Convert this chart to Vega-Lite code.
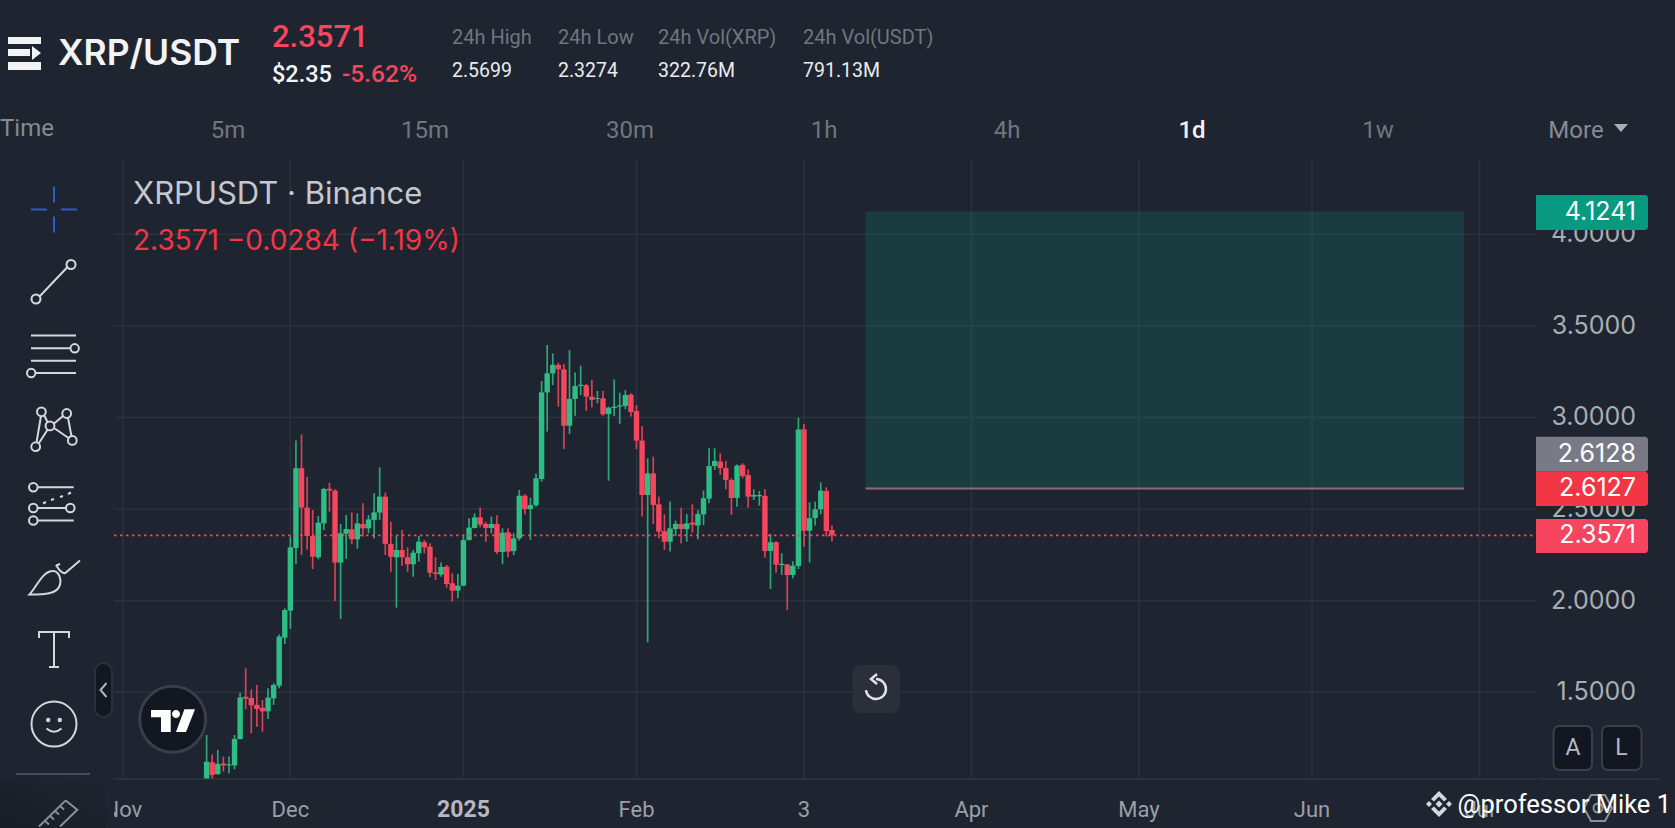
{"$schema":"https://vega.github.io/schema/vega-lite/v6.json","width":1675,"height":828,"padding":0,"autosize":{"type":"fit","contains":"padding"},"background":"#1f2530","view":{"stroke":null},"config":{"axis":{"disable":true}},
"datasets":{
"candles":[
{"date":"2024-11-16","open":1.03,"high":1.267,"low":1.03,"close":1.121},{"date":"2024-11-17","open":1.118,"high":1.161,"low":1.03,"close":1.049},{"date":"2024-11-18","open":1.054,"high":1.185,"low":1.049,"close":1.109},{"date":"2024-11-19","open":1.111,"high":1.149,"low":1.067,"close":1.101},{"date":"2024-11-20","open":1.101,"high":1.149,"low":1.058,"close":1.107},{"date":"2024-11-21","open":1.101,"high":1.267,"low":1.08,"close":1.245},{"date":"2024-11-22","open":1.245,"high":1.498,"low":1.243,"close":1.472},{"date":"2024-11-23","open":1.476,"high":1.631,"low":1.407,"close":1.465},{"date":"2024-11-24","open":1.469,"high":1.516,"low":1.276,"close":1.429},{"date":"2024-11-25","open":1.431,"high":1.54,"low":1.312,"close":1.409},{"date":"2024-11-26","open":1.416,"high":1.458,"low":1.285,"close":1.396},{"date":"2024-11-27","open":1.396,"high":1.522,"low":1.354,"close":1.471},{"date":"2024-11-28","open":1.467,"high":1.549,"low":1.431,"close":1.54},{"date":"2024-11-29","open":1.536,"high":1.816,"low":1.522,"close":1.804},{"date":"2024-11-30","open":1.798,"high":1.958,"low":1.764,"close":1.949},
{"date":"2024-12-01","open":1.946,"high":2.35,"low":1.846,"close":2.291},{"date":"2024-12-02","open":2.288,"high":2.874,"low":2.199,"close":2.723},{"date":"2024-12-03","open":2.723,"high":2.908,"low":2.25,"close":2.508},{"date":"2024-12-04","open":2.508,"high":2.677,"low":2.28,"close":2.353},{"date":"2024-12-05","open":2.353,"high":2.495,"low":2.173,"close":2.24},{"date":"2024-12-06","open":2.237,"high":2.462,"low":2.226,"close":2.426},{"date":"2024-12-07","open":2.422,"high":2.617,"low":2.386,"close":2.61},{"date":"2024-12-08","open":2.611,"high":2.644,"low":2.486,"close":2.601},{"date":"2024-12-09","open":2.601,"high":2.608,"low":1.998,"close":2.208},{"date":"2024-12-10","open":2.208,"high":2.419,"low":1.9,"close":2.368},{"date":"2024-12-11","open":2.366,"high":2.468,"low":2.228,"close":2.391},{"date":"2024-12-12","open":2.39,"high":2.482,"low":2.308,"close":2.335},{"date":"2024-12-13","open":2.335,"high":2.477,"low":2.284,"close":2.422},{"date":"2024-12-14","open":2.419,"high":2.532,"low":2.35,"close":2.395},{"date":"2024-12-15","open":2.395,"high":2.468,"low":2.368,"close":2.444},{"date":"2024-12-16","open":2.441,"high":2.586,"low":2.34,"close":2.482},{"date":"2024-12-17","open":2.481,"high":2.728,"low":2.441,"close":2.568},{"date":"2024-12-18","open":2.568,"high":2.59,"low":2.25,"close":2.31},{"date":"2024-12-19","open":2.31,"high":2.431,"low":2.158,"close":2.24},{"date":"2024-12-20","open":2.237,"high":2.353,"low":1.962,"close":2.277},{"date":"2024-12-21","open":2.277,"high":2.386,"low":2.191,"close":2.237},{"date":"2024-12-22","open":2.237,"high":2.291,"low":2.158,"close":2.199},{"date":"2024-12-23","open":2.199,"high":2.277,"low":2.131,"close":2.262},{"date":"2024-12-24","open":2.259,"high":2.353,"low":2.213,"close":2.322},{"date":"2024-12-25","open":2.319,"high":2.331,"low":2.259,"close":2.291},{"date":"2024-12-26","open":2.295,"high":2.313,"low":2.128,"close":2.153},{"date":"2024-12-27","open":2.155,"high":2.237,"low":2.113,"close":2.146},{"date":"2024-12-28","open":2.142,"high":2.208,"low":2.131,"close":2.184},{"date":"2024-12-29","open":2.186,"high":2.195,"low":2.071,"close":2.091},{"date":"2024-12-30","open":2.095,"high":2.149,"low":1.995,"close":2.055},{"date":"2024-12-31","open":2.055,"high":2.146,"low":2.013,"close":2.082},
{"date":"2025-01-01","open":2.082,"high":2.353,"low":2.08,"close":2.331},{"date":"2025-01-02","open":2.331,"high":2.45,"low":2.328,"close":2.399},{"date":"2025-01-03","open":2.397,"high":2.477,"low":2.395,"close":2.455},{"date":"2025-01-04","open":2.455,"high":2.508,"low":2.4,"close":2.415},{"date":"2025-01-05","open":2.419,"high":2.431,"low":2.322,"close":2.397},{"date":"2025-01-06","open":2.397,"high":2.459,"low":2.368,"close":2.419},{"date":"2025-01-07","open":2.419,"high":2.466,"low":2.255,"close":2.266},{"date":"2025-01-08","open":2.266,"high":2.395,"low":2.199,"close":2.371},{"date":"2025-01-09","open":2.373,"high":2.395,"low":2.237,"close":2.268},{"date":"2025-01-10","open":2.271,"high":2.368,"low":2.248,"close":2.34},{"date":"2025-01-11","open":2.34,"high":2.604,"low":2.328,"close":2.573},{"date":"2025-01-12","open":2.573,"high":2.582,"low":2.471,"close":2.5},{"date":"2025-01-13","open":2.5,"high":2.562,"low":2.331,"close":2.522},{"date":"2025-01-14","open":2.521,"high":2.695,"low":2.513,"close":2.668},{"date":"2025-01-15","open":2.664,"high":3.199,"low":2.65,"close":3.137},{"date":"2025-01-16","open":3.137,"high":3.396,"low":2.923,"close":3.241},{"date":"2025-01-17","open":3.241,"high":3.35,"low":3.177,"close":3.288},{"date":"2025-01-18","open":3.287,"high":3.299,"low":3.059,"close":3.263},{"date":"2025-01-19","open":3.263,"high":3.292,"low":2.828,"close":2.955},{"date":"2025-01-20","open":2.955,"high":3.368,"low":2.91,"close":3.101},{"date":"2025-01-21","open":3.101,"high":3.245,"low":3.01,"close":3.172},{"date":"2025-01-22","open":3.172,"high":3.283,"low":3.123,"close":3.179},{"date":"2025-01-23","open":3.176,"high":3.183,"low":3.037,"close":3.114},{"date":"2025-01-24","open":3.114,"high":3.205,"low":3.055,"close":3.096},{"date":"2025-01-25","open":3.101,"high":3.145,"low":3.077,"close":3.106},{"date":"2025-01-26","open":3.105,"high":3.145,"low":3.01,"close":3.017},{"date":"2025-01-27","open":3.019,"high":3.059,"low":2.655,"close":3.054},{"date":"2025-01-28","open":3.052,"high":3.208,"low":3.008,"close":3.059},{"date":"2025-01-29","open":3.059,"high":3.136,"low":2.965,"close":3.066},{"date":"2025-01-30","open":3.063,"high":3.15,"low":3.045,"close":3.123},{"date":"2025-01-31","open":3.125,"high":3.132,"low":3.005,"close":3.03},
{"date":"2025-02-01","open":3.035,"high":3.068,"low":2.828,"close":2.874},{"date":"2025-02-02","open":2.874,"high":2.954,"low":2.459,"close":2.577},{"date":"2025-02-03","open":2.577,"high":2.777,"low":1.773,"close":2.695},{"date":"2025-02-04","open":2.695,"high":2.786,"low":2.419,"close":2.522},{"date":"2025-02-05","open":2.526,"high":2.568,"low":2.34,"close":2.377},{"date":"2025-02-06","open":2.38,"high":2.471,"low":2.277,"close":2.322},{"date":"2025-02-07","open":2.322,"high":2.541,"low":2.268,"close":2.395},{"date":"2025-02-08","open":2.391,"high":2.437,"low":2.353,"close":2.419},{"date":"2025-02-09","open":2.419,"high":2.508,"low":2.313,"close":2.391},{"date":"2025-02-10","open":2.391,"high":2.473,"low":2.322,"close":2.422},{"date":"2025-02-11","open":2.426,"high":2.526,"low":2.371,"close":2.415},{"date":"2025-02-12","open":2.41,"high":2.495,"low":2.335,"close":2.473},{"date":"2025-02-13","open":2.471,"high":2.601,"low":2.413,"close":2.559},{"date":"2025-02-14","open":2.557,"high":2.832,"low":2.532,"close":2.735},{"date":"2025-02-15","open":2.735,"high":2.832,"low":2.713,"close":2.763},{"date":"2025-02-16","open":2.759,"high":2.804,"low":2.686,"close":2.724},{"date":"2025-02-17","open":2.724,"high":2.763,"low":2.608,"close":2.659},{"date":"2025-02-18","open":2.659,"high":2.668,"low":2.468,"close":2.561},{"date":"2025-02-19","open":2.561,"high":2.744,"low":2.513,"close":2.737},{"date":"2025-02-20","open":2.741,"high":2.75,"low":2.668,"close":2.681},{"date":"2025-02-21","open":2.686,"high":2.717,"low":2.508,"close":2.568},{"date":"2025-02-22","open":2.568,"high":2.608,"low":2.55,"close":2.577},{"date":"2025-02-23","open":2.57,"high":2.599,"low":2.519,"close":2.577},{"date":"2025-02-24","open":2.572,"high":2.608,"low":2.235,"close":2.271},{"date":"2025-02-25","open":2.271,"high":2.364,"low":2.064,"close":2.319},{"date":"2025-02-26","open":2.319,"high":2.324,"low":2.153,"close":2.197},{"date":"2025-02-27","open":2.195,"high":2.259,"low":2.14,"close":2.202},{"date":"2025-02-28","open":2.198,"high":2.2,"low":1.949,"close":2.14},
{"date":"2025-03-01","open":2.14,"high":2.215,"low":2.122,"close":2.191},{"date":"2025-03-02","open":2.189,"high":2.999,"low":2.173,"close":2.935},{"date":"2025-03-03","open":2.935,"high":2.965,"low":2.295,"close":2.382},{"date":"2025-03-04","open":2.382,"high":2.537,"low":2.209,"close":2.451},{"date":"2025-03-05","open":2.451,"high":2.541,"low":2.41,"close":2.499},{"date":"2025-03-06","open":2.499,"high":2.646,"low":2.471,"close":2.601},{"date":"2025-03-07","open":2.599,"high":2.619,"low":2.35,"close":2.38},{"date":"2025-03-08","open":2.386,"high":2.41,"low":2.324,"close":2.3571}],
"priceTicks":[{"price":4,"label":"4.0000"},{"price":3.5,"label":"3.5000"},{"price":3,"label":"3.0000"},{"price":2.5,"label":"2.5000"},{"price":2,"label":"2.0000"},{"price":1.5,"label":"1.5000"}],
"months":[{"date":"2024-11-01","label":"Nov"},{"date":"2024-12-01","label":"Dec"},{"date":"2025-01-01","label":"2025"},{"date":"2025-02-01","label":"Feb"},{"date":"2025-03-03","label":"3"},{"date":"2025-04-02","label":"Apr"},{"date":"2025-05-02","label":"May"},{"date":"2025-06-02","label":"Jun"},{"date":"2025-07-02","label":"Jul"}],
"position":[{"start":"2025-03-14","end":"2025-06-29T05:00:00Z","entry":2.6127,"target":4.1241}],
"last":[{"price":2.3571}]
},
"layer":[
{"data":{"name":"months"},"mark":{"type":"rule","color":"#2c323c","strokeWidth":1.5},"encoding":{"x":{"field":"date","type":"temporal","scale":{"type":"utc","domain":[1728517657800,1754439204050]}},"y":{"datum":4.40554,"type":"quantitative","scale":{"domain":[0.7593,5.2789],"nice":false,"zero":false}},"y2":{"datum":1.02671}}},
{"data":{"name":"priceTicks"},"mark":{"type":"rule","color":"#2c323c","strokeWidth":1.5},"encoding":{"y":{"field":"price","type":"quantitative"},"x":{"datum":1730281870000,"type":"temporal"},"x2":{"datum":1752288100000}}},
{"data":{"name":"position"},"mark":{"type":"rect","color":"#089981","opacity":0.2},"encoding":{"x":{"field":"start","type":"temporal"},"x2":{"field":"end"},"y":{"field":"target","type":"quantitative"},"y2":{"field":"entry"}}},
{"data":{"name":"position"},"mark":{"type":"rule","color":"#8d6a77","strokeWidth":2},"encoding":{"x":{"field":"start","type":"temporal"},"x2":{"field":"end"},"y":{"field":"entry","type":"quantitative"}}},
{"data":{"values":[{"a":1}]},"mark":{"type":"rule","color":"#2b313b","strokeWidth":2},"encoding":{"x":{"datum":1730281870000,"type":"temporal"},"x2":{"datum":1752288100000},"y":{"datum":1.02671,"type":"quantitative"}}},
{"data":{"values":[{"a":1}]},"mark":{"type":"rule","color":"#2b313b","strokeWidth":2},"encoding":{"x":{"datum":1752319050000,"type":"temporal"},"x2":{"datum":1754191600000},"y":{"datum":1.02671,"type":"quantitative"}}},
{"data":{"name":"candles"},"mark":{"type":"rule","strokeWidth":1.7,"opacity":0.85},"encoding":{"x":{"field":"date","type":"temporal"},"y":{"field":"low","type":"quantitative"},"y2":{"field":"high"},"color":{"condition":{"test":"datum.close>=datum.open","value":"#2ebd85"},"value":"#f6465d"}}},
{"data":{"name":"candles"},"mark":{"type":"rule","strokeWidth":5.4},"encoding":{"x":{"field":"date","type":"temporal"},"y":{"field":"open","type":"quantitative"},"y2":{"field":"close"},"color":{"condition":{"test":"datum.close>=datum.open","value":"#2ebd85"},"value":"#f6465d"}}},
{"data":{"name":"last"},"mark":{"type":"rule","color":"#f6465d","strokeWidth":1.7,"strokeDash":[2.5,3.5]},"encoding":{"y":{"field":"price","type":"quantitative"},"x":{"datum":1730281870000,"type":"temporal"},"x2":{"datum":1752288100000}}},
{"data":{"name":"priceTicks"},"mark":{"type":"text","align":"right","baseline":"middle","font":"Inter","fontSize":25,"color":"#a9adb5"},"encoding":{"x":{"datum":1753835650000,"type":"temporal"},"y":{"field":"price","type":"quantitative"},"text":{"field":"label"}}},
{"data":{"name":"months"},"transform":[{"filter":"datum.label!=='2025'"}],"mark":{"type":"text","baseline":"middle","font":"Roboto","fontSize":22,"color":"#9a9fa8"},"encoding":{"x":{"field":"date","type":"temporal"},"y":{"datum":0.8575,"type":"quantitative"},"text":{"field":"label"}}},
{"data":{"name":"months"},"transform":[{"filter":"datum.label==='2025'"}],"mark":{"type":"text","baseline":"middle","font":"Roboto","fontSize":23,"fontWeight":700,"color":"#b5b8c0"},"encoding":{"x":{"field":"date","type":"temporal"},"y":{"datum":0.8575,"type":"quantitative"},"text":{"field":"label"}}},
{"data":{"values":[{"a":1}]},"mark":{"type":"rect","color":"#089981","cornerRadiusTopRight":3,"cornerRadiusBottomRight":3},"encoding":{"x":{"datum":1752288100000,"type":"temporal"},"x2":{"datum":1754021370000},"y":{"datum":4.21449,"type":"quantitative"},"y2":{"datum":4.02344}}},
{"data":{"values":[{"a":1}]},"mark":{"type":"rect","color":"#787b86","cornerRadiusTopRight":3,"cornerRadiusBottomRight":3},"encoding":{"x":{"datum":1752288100000,"type":"temporal"},"x2":{"datum":1754021370000},"y":{"datum":2.89516,"type":"quantitative"},"y2":{"datum":2.70412}}},
{"data":{"values":[{"a":1}]},"mark":{"type":"rect","color":"#f23645","cornerRadiusTopRight":3,"cornerRadiusBottomRight":3},"encoding":{"x":{"datum":1752288100000,"type":"temporal"},"x2":{"datum":1754021370000},"y":{"datum":2.70412,"type":"quantitative"},"y2":{"datum":2.51689}}},
{"data":{"values":[{"a":1}]},"mark":{"type":"rect","color":"#f7445f","cornerRadiusTopRight":3,"cornerRadiusBottomRight":3},"encoding":{"x":{"datum":1752288100000,"type":"temporal"},"x2":{"datum":1754021370000},"y":{"datum":2.44593,"type":"quantitative"},"y2":{"datum":2.26034}}},
{"data":{"values":[{"label":"4.1241"}]},"mark":{"type":"text","align":"right","baseline":"middle","font":"Inter","fontSize":25,"color":"#ffffff"},"encoding":{"x":{"datum":1753835650000,"type":"temporal"},"y":{"datum":4.1241,"type":"quantitative"},"text":{"field":"label"}}},
{"data":{"values":[{"label":"2.6128"}]},"mark":{"type":"text","align":"right","baseline":"middle","font":"Inter","fontSize":25,"color":"#ffffff"},"encoding":{"x":{"datum":1753835650000,"type":"temporal"},"y":{"datum":2.80073,"type":"quantitative"},"text":{"field":"label"}}},
{"data":{"values":[{"label":"2.6127"}]},"mark":{"type":"text","align":"right","baseline":"middle","font":"Inter","fontSize":25,"color":"#ffffff"},"encoding":{"x":{"datum":1753835650000,"type":"temporal"},"y":{"datum":2.6127,"type":"quantitative"},"text":{"field":"label"}}},
{"data":{"values":[{"label":"2.3571"}]},"mark":{"type":"text","align":"right","baseline":"middle","font":"Inter","fontSize":25,"color":"#ffffff"},"encoding":{"x":{"datum":1753835650000,"type":"temporal"},"y":{"datum":2.3571,"type":"quantitative"},"text":{"field":"label"}}},
{"data":{"values":[{"label":"XRP/USDT"}]},"mark":{"type":"text","align":"left","baseline":"middle","font":"Inter","fontSize":35.5,"fontWeight":600,"color":"#f2f3f5"},"encoding":{"x":{"datum":1729415240000,"type":"temporal"},"y":{"datum":4.98414,"type":"quantitative"},"text":{"field":"label"}}},
{"data":{"values":[{"label":"2.3571"}]},"mark":{"type":"text","align":"left","baseline":"middle","font":"Roboto","fontSize":31,"fontWeight":500,"color":"#f6465d"},"encoding":{"x":{"datum":1732727010000,"type":"temporal"},"y":{"datum":5.07148,"type":"quantitative"},"text":{"field":"label"}}},
{"data":{"values":[{"label":"$2.35"}]},"mark":{"type":"text","align":"left","baseline":"middle","font":"Roboto","fontSize":23.5,"fontWeight":500,"color":"#f2f3f5"},"encoding":{"x":{"datum":1732727010000,"type":"temporal"},"y":{"datum":4.87115,"type":"quantitative"},"text":{"field":"label"}}},
{"data":{"values":[{"label":"-5.62%"}]},"mark":{"type":"text","align":"left","baseline":"middle","font":"Roboto","fontSize":24.5,"fontWeight":500,"color":"#f6465d"},"encoding":{"x":{"datum":1733810300000,"type":"temporal"},"y":{"datum":4.87115,"type":"quantitative"},"text":{"field":"label"}}},
{"data":{"values":[{"label":"24h High"}]},"mark":{"type":"text","align":"left","baseline":"middle","font":"Roboto","fontSize":20,"color":"#70757f"},"encoding":{"x":{"datum":1735512610000,"type":"temporal"},"y":{"datum":5.07148,"type":"quantitative"},"text":{"field":"label"}}},
{"data":{"values":[{"label":"24h Low"}]},"mark":{"type":"text","align":"left","baseline":"middle","font":"Roboto","fontSize":20,"color":"#70757f"},"encoding":{"x":{"datum":1737153020000,"type":"temporal"},"y":{"datum":5.07148,"type":"quantitative"},"text":{"field":"label"}}},
{"data":{"values":[{"label":"24h Vol(XRP)"}]},"mark":{"type":"text","align":"left","baseline":"middle","font":"Roboto","fontSize":20,"color":"#70757f"},"encoding":{"x":{"datum":1738700570000,"type":"temporal"},"y":{"datum":5.07148,"type":"quantitative"},"text":{"field":"label"}}},
{"data":{"values":[{"label":"24h Vol(USDT)"}]},"mark":{"type":"text","align":"left","baseline":"middle","font":"Roboto","fontSize":20,"color":"#70757f"},"encoding":{"x":{"datum":1740944530000,"type":"temporal"},"y":{"datum":5.07148,"type":"quantitative"},"text":{"field":"label"}}},
{"data":{"values":[{"label":"2.5699"}]},"mark":{"type":"text","align":"left","baseline":"middle","font":"Roboto","fontSize":19.5,"color":"#eaecef"},"encoding":{"x":{"datum":1735512610000,"type":"temporal"},"y":{"datum":4.89135,"type":"quantitative"},"text":{"field":"label"}}},
{"data":{"values":[{"label":"2.3274"}]},"mark":{"type":"text","align":"left","baseline":"middle","font":"Roboto","fontSize":19.5,"color":"#eaecef"},"encoding":{"x":{"datum":1737153020000,"type":"temporal"},"y":{"datum":4.89135,"type":"quantitative"},"text":{"field":"label"}}},
{"data":{"values":[{"label":"322.76M"}]},"mark":{"type":"text","align":"left","baseline":"middle","font":"Roboto","fontSize":19.5,"color":"#eaecef"},"encoding":{"x":{"datum":1738700570000,"type":"temporal"},"y":{"datum":4.89135,"type":"quantitative"},"text":{"field":"label"}}},
{"data":{"values":[{"label":"791.13M"}]},"mark":{"type":"text","align":"left","baseline":"middle","font":"Roboto","fontSize":19.5,"color":"#eaecef"},"encoding":{"x":{"datum":1740944530000,"type":"temporal"},"y":{"datum":4.89135,"type":"quantitative"},"text":{"field":"label"}}},
{"data":{"values":[{"label":"Time"}]},"mark":{"type":"text","align":"left","baseline":"middle","font":"Roboto","fontSize":24,"color":"#858a94"},"encoding":{"x":{"datum":1728517660000,"type":"temporal"},"y":{"datum":4.575,"type":"quantitative"},"text":{"field":"label"}}},
{"data":{"values":[{"label":"5m"}]},"mark":{"type":"text","baseline":"middle","font":"Roboto","fontSize":24,"color":"#70757f"},"encoding":{"x":{"datum":1732046090000,"type":"temporal"},"y":{"datum":4.56656,"type":"quantitative"},"text":{"field":"label"}}},
{"data":{"values":[{"label":"15m"}]},"mark":{"type":"text","baseline":"middle","font":"Roboto","fontSize":24,"color":"#70757f"},"encoding":{"x":{"datum":1735094770000,"type":"temporal"},"y":{"datum":4.56656,"type":"quantitative"},"text":{"field":"label"}}},
{"data":{"values":[{"label":"30m"}]},"mark":{"type":"text","baseline":"middle","font":"Roboto","fontSize":24,"color":"#70757f"},"encoding":{"x":{"datum":1738267260000,"type":"temporal"},"y":{"datum":4.56656,"type":"quantitative"},"text":{"field":"label"}}},
{"data":{"values":[{"label":"1h"}]},"mark":{"type":"text","baseline":"middle","font":"Roboto","fontSize":24,"color":"#70757f"},"encoding":{"x":{"datum":1741269510000,"type":"temporal"},"y":{"datum":4.56656,"type":"quantitative"},"text":{"field":"label"}}},
{"data":{"values":[{"label":"4h"}]},"mark":{"type":"text","baseline":"middle","font":"Roboto","fontSize":24,"color":"#70757f"},"encoding":{"x":{"datum":1744101540000,"type":"temporal"},"y":{"datum":4.56656,"type":"quantitative"},"text":{"field":"label"}}},
{"data":{"values":[{"label":"1d"}]},"mark":{"type":"text","baseline":"middle","font":"Roboto","fontSize":24,"fontWeight":500,"color":"#f2f3f5"},"encoding":{"x":{"datum":1746965320000,"type":"temporal"},"y":{"datum":4.56656,"type":"quantitative"},"text":{"field":"label"}}},
{"data":{"values":[{"label":"1w"}]},"mark":{"type":"text","baseline":"middle","font":"Roboto","fontSize":24,"color":"#70757f"},"encoding":{"x":{"datum":1749842970000,"type":"temporal"},"y":{"datum":4.56656,"type":"quantitative"},"text":{"field":"label"}}},
{"data":{"values":[{"label":"More"}]},"mark":{"type":"text","baseline":"middle","font":"Roboto","fontSize":24,"color":"#858a94"},"encoding":{"x":{"datum":1752907130000,"type":"temporal"},"y":{"datum":4.56656,"type":"quantitative"},"text":{"field":"label"}}},
{"data":{"values":[{"a":1}]},"mark":{"type":"point","shape":"M-7,-4L7,-4L0,4Z","size":4,"filled":true,"color":"#a9adb5","opacity":1},"encoding":{"x":{"datum":1753603530000,"type":"temporal"},"y":{"datum":4.58,"type":"quantitative"}}},
{"data":{"values":[{"label":"XRPUSDT · Binance"}]},"mark":{"type":"text","align":"left","baseline":"middle","font":"Inter","fontSize":31,"color":"#c5c8cf"},"encoding":{"x":{"datum":1730575910000,"type":"temporal"},"y":{"datum":4.21449,"type":"quantitative"},"text":{"field":"label"}}},
{"data":{"values":[{"label":"2.3571  −0.0284 (−1.19%)"}]},"mark":{"type":"text","align":"left","baseline":"middle","font":"Inter","fontSize":28,"color":"#f23645"},"encoding":{"x":{"datum":1730575910000,"type":"temporal"},"y":{"datum":3.95958,"type":"quantitative"},"text":{"field":"label"}}},
{"data":{"values":[{"a":1}]},"mark":{"type":"point","shape":"M-17,-16H16V-9H-17ZM-17,-4H5V3H-17ZM7,-7L16,0L7,7ZM-17,9H16V17H-17Z","size":4,"filled":true,"color":"#f2f3f5","opacity":1},"encoding":{"x":{"datum":1728904550000,"type":"temporal"},"y":{"datum":4.9896,"type":"quantitative"}}},
{"data":{"values":[{"a":1}]},"mark":{"type":"point","shape":"M-23,0H-7M7,0H23M0,-23V-7M0,7V23","size":4,"filled":false,"color":"#2a5cc8","strokeWidth":2,"opacity":1},"encoding":{"x":{"datum":1729353340000,"type":"temporal"},"y":{"datum":4.13534,"type":"quantitative"}}},
{"data":{"values":[{"a":1}]},"mark":{"type":"point","shape":"M-14.5,14.5L13.5,-15M-22.5,17a4.5,4.5 0 1,0 9,0a4.5,4.5 0 1,0 -9,0M12.5,-17.5a4.5,4.5 0 1,0 9,0a4.5,4.5 0 1,0 -9,0","size":4,"filled":false,"color":"#d5d7dc","strokeWidth":2,"opacity":1},"encoding":{"x":{"datum":1729353340000,"type":"temporal"},"y":{"datum":3.7396,"type":"quantitative"}}},
{"data":{"values":[{"a":1}]},"mark":{"type":"point","shape":"M-23,-18.5H22M-23,-5.7H16.5M-23,6.7H22M-18,19H22M16.5,-5.7a4.2,4.2 0 1,0 8.4,0a4.2,4.2 0 1,0 -8.4,0M-27,19a4.2,4.2 0 1,0 8.4,0a4.2,4.2 0 1,0 -8.4,0","size":4,"filled":false,"color":"#d5d7dc","strokeWidth":2,"opacity":1},"encoding":{"x":{"datum":1729353340000,"type":"temporal"},"y":{"datum":3.34658,"type":"quantitative"}}},
{"data":{"values":[{"a":1}]},"mark":{"type":"point","shape":"M-17.5,13.5L-13,-13M-10,-14L-6,-6M-15,14L-6,0M-0.5,-5L9,-13M0,-1L14.5,9M14,-11.5L17.5,7.5M-17,-17.2a4.4,4.4 0 1,0 8.8,0a4.4,4.4 0 1,0 -8.8,0M8.3,-15.5a4.4,4.4 0 1,0 8.8,0a4.4,4.4 0 1,0 -8.8,0M-8.4,-3.1a4.4,4.4 0 1,0 8.8,0a4.4,4.4 0 1,0 -8.8,0M13.9,11.4a4.4,4.4 0 1,0 8.8,0a4.4,4.4 0 1,0 -8.8,0M-22.7,17.7a4.4,4.4 0 1,0 8.8,0a4.4,4.4 0 1,0 -8.8,0","size":4,"filled":false,"color":"#d5d7dc","strokeWidth":2,"opacity":1},"encoding":{"x":{"datum":1729353340000,"type":"temporal"},"y":{"datum":2.9372,"type":"quantitative"}}},
{"data":{"values":[{"a":1}]},"mark":{"type":"point","shape":"M-16,-17.8H19.7M-16.2,3H11.8M-16,15.5H19.7M-25,-17.8a4.3,4.3 0 1,0 8.6,0a4.3,4.3 0 1,0 -8.6,0M-25,3a4.3,4.3 0 1,0 8.6,0a4.3,4.3 0 1,0 -8.6,0M12,3a4.3,4.3 0 1,0 8.6,0a4.3,4.3 0 1,0 -8.6,0M-25,15.5a4.3,4.3 0 1,0 8.6,0a4.3,4.3 0 1,0 -8.6,0M-11,-1.5L-8,-3M-3,-5L0,-6M6,-8L9,-9M14,-11L17,-12.5","size":4,"filled":false,"color":"#d5d7dc","strokeWidth":2,"opacity":1},"encoding":{"x":{"datum":1729353340000,"type":"temporal"},"y":{"datum":2.52235,"type":"quantitative"}}},
{"data":{"values":[{"a":1}]},"mark":{"type":"point","shape":"M-24.7,16.6C-18,10 -12,-6 -2,-7C6,-8 8,4 5,9C2,15 -6,16.6 -24.7,16.6ZM3,-11.5C1,-13 4,-13 6,-14M3,-11.5C5,-8 8,-5 11,-4.7L26,-17.5","size":4,"filled":false,"color":"#d5d7dc","strokeWidth":2,"opacity":1},"encoding":{"x":{"datum":1729353340000,"type":"temporal"},"y":{"datum":2.12388,"type":"quantitative"}}},
{"data":{"values":[{"a":1}]},"mark":{"type":"point","shape":"M-15,-12V-18H15V-12M0,-18V17M-5,17H5","size":4,"filled":false,"color":"#d5d7dc","strokeWidth":2,"opacity":1},"encoding":{"x":{"datum":1729353340000,"type":"temporal"},"y":{"datum":1.73086,"type":"quantitative"}}},
{"data":{"values":[{"a":1}]},"mark":{"type":"point","shape":"M-22.5,0a22.5,22.5 0 1,0 45,0a22.5,22.5 0 1,0 -45,0M-7.5,4.5Q0,11 7.5,4.5M-7,-4a1.2,1.2 0 1,0 2.4,0a1.2,1.2 0 1,0 -2.4,0M4.6,-4a1.2,1.2 0 1,0 2.4,0a1.2,1.2 0 1,0 -2.4,0","size":4,"filled":false,"color":"#d5d7dc","strokeWidth":2,"opacity":1},"encoding":{"x":{"datum":1729353340000,"type":"temporal"},"y":{"datum":1.32693,"type":"quantitative"}}},
{"data":{"values":[{"a":1}]},"mark":{"type":"rule","color":"#4a4e57","strokeWidth":2},"encoding":{"x":{"datum":1728765270000,"type":"temporal"},"x2":{"datum":1729910460000},"y":{"datum":1.05401,"type":"quantitative"}}},
{"data":{"values":[{"a":1}]},"mark":{"type":"rect","color":"#1f2530"},"encoding":{"x":{"datum":1728517660000,"type":"temporal"},"x2":{"datum":1730281870000},"y":{"datum":0.99396,"type":"quantitative"},"y2":{"datum":0.7593}}},
{"data":{"values":[{"a":1}]},"mark":{"type":"rect","fill":{"gradient":"linear","x1":1,"y1":0,"x2":0,"y2":1,"stops":[{"offset":0,"color":"#1f2530"},{"offset":1,"color":"#181c25"}]}},"encoding":{"x":{"datum":1728517660000,"type":"temporal"},"x2":{"datum":1730158070000},"y":{"datum":1.01034,"type":"quantitative"},"y2":{"datum":0.7593}}},
{"data":{"values":[{"a":1}]},"mark":{"type":"point","shape":"M11.7,-14.6L23.3,-5.2L6,11.5M11.7,-14.6L-15,11.5M6,-9L10,-5.5M1,-4L5,-0.5M-4,1L0,4.5M-9,6L-5,9.5","size":4,"filled":false,"clip":true,"color":"#8b8f97","strokeWidth":2,"opacity":1},"encoding":{"x":{"datum":1729353340000,"type":"temporal"},"y":{"datum":0.83021,"type":"quantitative"}}},
{"data":{"values":[{"a":1}]},"mark":{"type":"rect","color":"#131722","stroke":"#2b313b","strokeWidth":2,"cornerRadius":9},"encoding":{"x":{"datum":1729987840000,"type":"temporal"},"x2":{"datum":1730250920000},"y":{"datum":1.6599,"type":"quantitative"},"y2":{"datum":1.36514}}},
{"data":{"values":[{"a":1}]},"mark":{"type":"point","shape":"M3,-7L-3,0L3,7","size":4,"filled":false,"color":"#b0b4bc","strokeWidth":2,"opacity":1},"encoding":{"x":{"datum":1730119380000,"type":"temporal"},"y":{"datum":1.51252,"type":"quantitative"}}},
{"data":{"values":[{"a":1}]},"mark":{"type":"point","shape":"M-33,0a33,33 0 1,0 66,0a33,33 0 1,0 -66,0Z","size":4,"filled":true,"fill":"#131722","stroke":"#3a3e48","strokeWidth":3,"opacity":1},"encoding":{"x":{"datum":1731190290000,"type":"temporal"},"y":{"datum":1.35259,"type":"quantitative"}}},
{"data":{"values":[{"a":1}]},"mark":{"type":"point","shape":"M-21.7,-9.3H-2V12.7H-11.7V-2H-21.7ZM-0.7,-5.3a4,4 0 1,0 8,0a4,4 0 1,0 -8,0ZM11.7,-10H22.3L13.3,12.7H3.3Z","size":4,"filled":true,"color":"#ffffff","opacity":1},"encoding":{"x":{"datum":1731190290000,"type":"temporal"},"y":{"datum":1.35259,"type":"quantitative"}}},
{"data":{"values":[{"a":1}]},"mark":{"type":"rect","color":"#2a2f39","cornerRadius":8},"encoding":{"x":{"datum":1741710560000,"type":"temporal"},"x2":{"datum":1742445650000},"y":{"datum":1.64898,"type":"quantitative"},"y2":{"datum":1.38698}}},
{"data":{"values":[{"a":1}]},"mark":{"type":"point","shape":"M0,-10A10,10 0 1 1 -10,1M1,-15L-5,-10L1,-5","size":4,"filled":false,"color":"#e0e2e6","strokeWidth":2.5,"opacity":1},"encoding":{"x":{"datum":1742074240000,"type":"temporal"},"y":{"datum":1.51798,"type":"quantitative"}}},
{"data":{"values":[{"a":1}]},"mark":{"type":"rect","color":"#131722","stroke":"#3a3e48","strokeWidth":2,"cornerRadius":6},"encoding":{"x":{"datum":1752558930000,"type":"temporal"},"x2":{"datum":1753154740000},"y":{"datum":1.31601,"type":"quantitative"},"y2":{"datum":1.07584}}},
{"data":{"values":[{"a":1}]},"mark":{"type":"rect","color":"#131722","stroke":"#3a3e48","strokeWidth":2,"cornerRadius":6},"encoding":{"x":{"datum":1753309490000,"type":"temporal"},"x2":{"datum":1753920780000},"y":{"datum":1.31601,"type":"quantitative"},"y2":{"datum":1.07584}}},
{"data":{"values":[{"label":"A"}]},"mark":{"type":"text","baseline":"middle","font":"Roboto","fontSize":23,"color":"#b8bcc4"},"encoding":{"x":{"datum":1752860700000,"type":"temporal"},"y":{"datum":1.19593,"type":"quantitative"},"text":{"field":"label"}}},
{"data":{"values":[{"label":"L"}]},"mark":{"type":"text","baseline":"middle","font":"Roboto","fontSize":23,"color":"#b8bcc4"},"encoding":{"x":{"datum":1753611260000,"type":"temporal"},"y":{"datum":1.19593,"type":"quantitative"},"text":{"field":"label"}}},
{"data":{"values":[{"a":1}]},"mark":{"type":"point","shape":"M-7,-13H7L14,0L7,13H-7L-14,0ZM-4.5,0a4.5,4.5 0 1,0 9,0a4.5,4.5 0 1,0 -9,0","size":4,"filled":false,"color":"#8c9098","strokeWidth":2,"opacity":1},"encoding":{"x":{"datum":1753247660000,"type":"temporal"},"y":{"datum":0.86842,"type":"quantitative"}}},
{"data":{"values":[{"a":1}]},"mark":{"type":"point","shape":"M0,-3.5L3.5,0L0,3.5L-3.5,0ZM-13,0L-10,-3L-7,0L-10,3ZM13,0L10,-3L7,0L10,3ZM0,-13L8,-5L5,-2.5L0,-7.5L-5,-2.5L-8,-5ZM0,13L8,5L5,2.5L0,7.5L-5,2.5L-8,5Z","size":4,"filled":true,"color":"#d5d7dc","opacity":1},"encoding":{"x":{"datum":1750786980000,"type":"temporal"},"y":{"datum":0.89025,"type":"quantitative"}}},
{"data":{"values":[{"label":"@professor Mike 1"}]},"mark":{"type":"text","align":"left","baseline":"middle","font":"Roboto","fontSize":25.5,"color":"#ffffff"},"encoding":{"x":{"datum":1751074830000,"type":"temporal"},"y":{"datum":0.88479,"type":"quantitative"},"text":{"field":"label"}}}
]}
